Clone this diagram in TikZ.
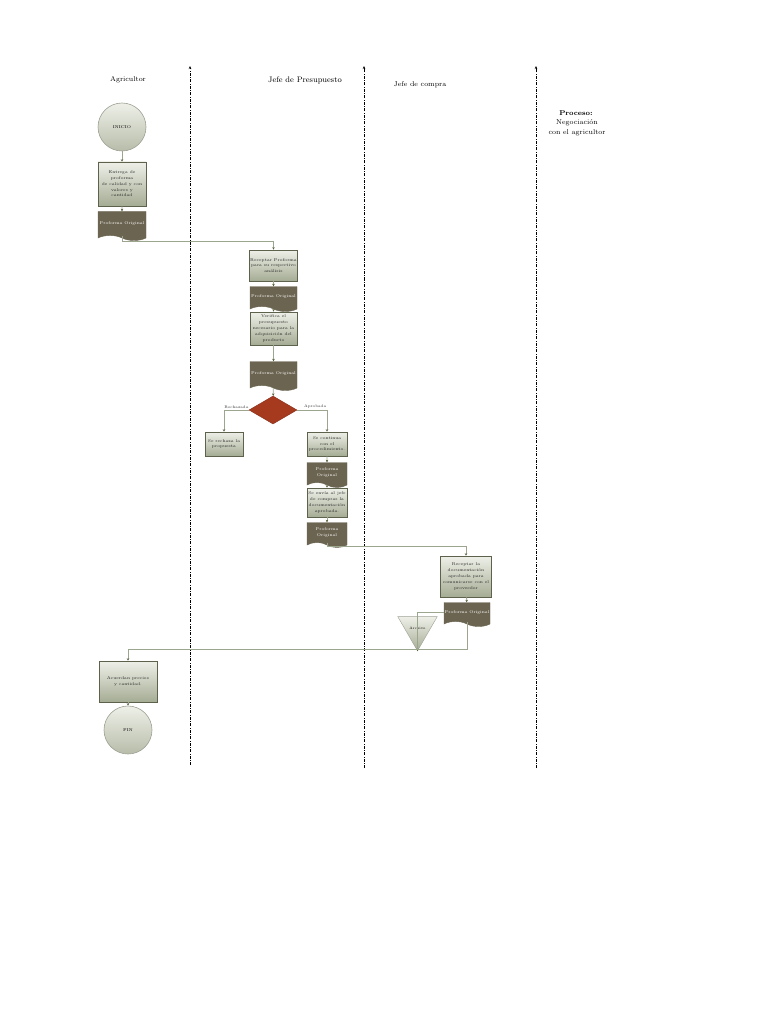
\documentclass[tikz,border=0pt]{standalone}
\usetikzlibrary{shapes.geometric,shapes.symbols,arrows.meta}

\definecolor{cajaarriba}{HTML}{EEF0E8}
\definecolor{cajaabajo}{HTML}{A5AC94}
\definecolor{borde}{HTML}{5C624C}
\definecolor{docfondo}{HTML}{6B6451}
\definecolor{rojo}{HTML}{A63A1F}
\definecolor{linea}{HTML}{9CA58E}
\definecolor{punta}{HTML}{56603C}

\newcommand\chico{\fontsize{4.1}{5.8}\selectfont}
\newcommand\titulo{\fontsize{7}{9.5}\selectfont}

\tikzset{
  caja/.style={rectangle,draw=borde,line width=.6pt,top color=cajaarriba,
    bottom color=cajaabajo,font=\chico,align=center,inner sep=.5pt,text=black!85},
  doc/.style={tape,tape bend top=none,tape bend bottom=out and in,
    tape bend height=5pt,fill=docfondo,draw=docfondo,font=\chico,
    text=white,align=center,inner sep=.5pt},
  circulo/.style={circle,draw=borde!60,line width=.6pt,top color=cajaarriba,
    bottom color=cajaabajo!80,font=\chico,inner sep=0pt},
  con/.style={draw=linea,line width=.8pt,-{Stealth[length=2.5pt,width=2.5pt,color=punta]}},
  carril/.style={line width=.6pt,dash pattern=on 3pt off 1.5pt on .5pt off 1.5pt,
    -{Stealth[length=3pt,width=2.5pt]}},
  etiq/.style={font=\fontsize{3.8}{4.5}\selectfont,text=black!80,inner sep=1.5pt}
}

\begin{document}
\begin{tikzpicture}[x=1pt,y=-1pt]
  \useasboundingbox (0,0) rectangle (768,1024);

  % carriles
  \coordinate (c1a) at (190,765);
  \coordinate (c1b) at (190,66);
  \coordinate (c2a) at (364,768);
  \coordinate (c2b) at (364,66);
  \coordinate (c3a) at (536,768);
  \coordinate (c3b) at (536,66);
  \draw[carril] (c1a) -- (c1b);
  \draw[carril] (c2a) -- (c2b);
  \draw[carril] (c3a) -- (c3b);

  \begin{scope}[every node/.style={font=\titulo,align=center}]
    \node (agr) at (128,80) {Agricultor};
    \node[font=\fontsize{8}{9.5}\selectfont] (pre) at (305,80) {Jefe de Presupuesto};
    \node (com) at (420,85) {Jefe de compra};
    \node[font=\titulo\bfseries] (proc) at (576,113) {Proceso:};
    \node (neg) at (577,128) {Negociaci\'on\\con el agricultor};
  \end{scope}

  % inicio y fin
  \node[circulo,minimum size=48pt] (ini) at (122,127) {INICIO};
  \node[circulo,minimum size=48pt] (fin) at (128,730) {FIN};

  \begin{scope}[every node/.style={caja}]
    \node[minimum width=48pt,minimum height=44pt] (b1) at (122,184)
      {Entrega de\\proforma\\de calidad y con\\valores y\\cantidad};
    \node[minimum width=47pt,minimum height=31pt] (b2) at (273.5,265.5)
      {Receptar Proforma\\para su respectivo\\an\'alisis};
    \node[minimum width=47pt,minimum height=33pt] (b3) at (273.5,328.5)
      {Verifica el\\presupuesto\\necesario para la\\adquisici\'on del\\producto};
    \node[minimum width=38pt,minimum height=24pt] (b4) at (224,444)
      {Se rechaza la\\propuesta};
    \node[minimum width=40pt,minimum height=24pt] (b5) at (327,444)
      {Se continua\\con el\\procedimiento.};
    \node[minimum width=40pt,minimum height=29pt] (b6) at (327,502.5)
      {Se env\'ia al jefe\\de compras la\\documentaci\'on\\aprobada.};
    \node[minimum width=51pt,minimum height=41pt] (b7) at (466,576.5)
      {Receptar la\\documentaci\'on\\aprobada para\\comunicarse con el\\proveedor};
    \node[minimum width=58pt,minimum height=41pt] (b8) at (128,681.5)
      {Acuerdan precios\\y cantidad.};
  \end{scope}

  \begin{scope}[every node/.style={doc}]
    \node[minimum width=48pt,minimum height=29pt] (d1) at (122,223.5) {Proforma Original};
    \node[minimum width=47pt,minimum height=25pt] (d2) at (273.5,296.5) {Proforma Original};
    \node[minimum width=47pt,minimum height=29pt] (d3) at (273.5,373.5) {Proforma Original};
    \node[minimum width=40pt,minimum height=25pt] (d5) at (327,472.5) {Proforma\\Original};
    \node[minimum width=40pt,minimum height=25pt] (d6) at (327,532.5) {Proforma\\Original};
    \node[minimum width=46pt,minimum height=24pt] (d7) at (467,612) {Proforma Original};
  \end{scope}

  \node[diamond,fill=rojo,draw=rojo!80!black,inner sep=0pt,
    minimum width=48pt,minimum height=28pt] (dec) at (273,410) {};
  \node[regular polygon,regular polygon sides=3,shape border rotate=180,
    minimum size=30pt,inner sep=0pt,draw=borde!60,top color=cajaarriba,
    bottom color=cajaabajo,font=\fontsize{3.5}{4}\selectfont] (arc) at (417.5,628) {Archivo};

  % conectores
  \draw[con] (ini) -- (b1);
  \draw[con] (b1) -- (d1);
  \draw[con] (d1.south) -- ++(0,6) -| (b2.north);
  \draw[con] (b2) -- (d2);
  \draw[con] (d2) -- (b3);
  \draw[con] (b3) -- (d3);
  \draw[con] (d3) -- (dec);
  \draw[con] (dec.west) -| (b4.north) node[etiq,pos=.25,above] {Rechazada};
  \draw[con] (dec.east) -| (b5.north) node[etiq,pos=.3,above] {Aprobada};
  \draw[con] (b5) -- (d5);
  \draw[con] (d5) -- (b6);
  \draw[con] (b6) -- (d6);
  \draw[con] (d6.south) -- ++(0,4) -| (b7.north);
  \draw[con] (b7) -- (d7);
  \draw[con] (d7.west) -| (arc.south);
  \draw[con] (d7.south) -- ++(0,28) -| (b8.north);
  \draw[con] (b8) -- (fin);

\end{tikzpicture}
\end{document}
